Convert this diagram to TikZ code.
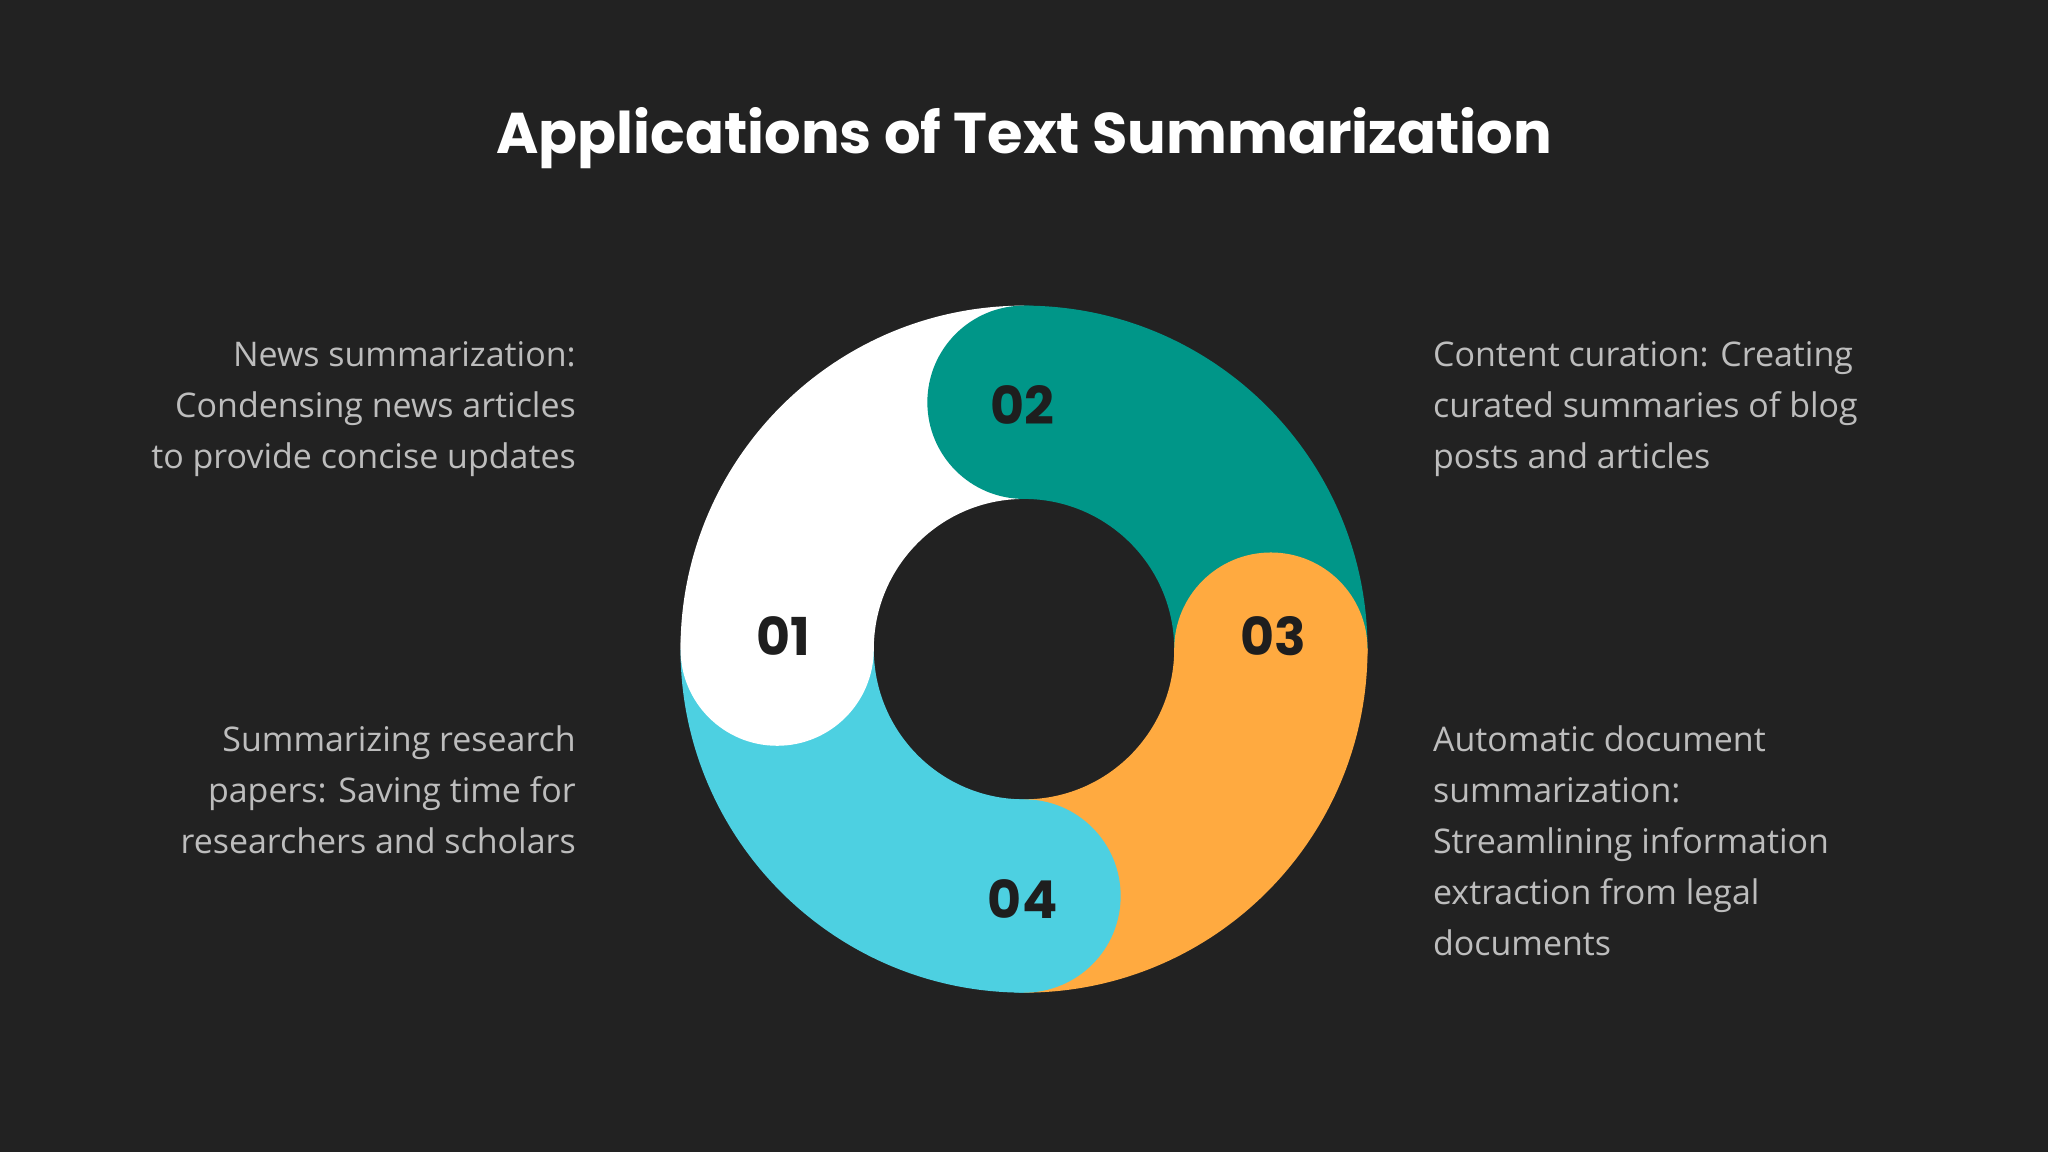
\documentclass[tikz,border=0pt]{standalone}
\usepackage{fontspec}
\usetikzlibrary{calc}
\setmainfont{Open Sans}
\newfontfamily\titlefont{Poppins}
\definecolor{bg}{HTML}{222222}
\definecolor{tealc}{HTML}{009688}
\definecolor{orangec}{HTML}{FFAA40}
\definecolor{cyanc}{HTML}{4DD0E1}
\definecolor{txt}{HTML}{BDBDBD}
\definecolor{numc}{HTML}{1E1E1E}
\begin{document}
\begin{tikzpicture}[x=1pt,y=1pt,
  desc/.style={text=txt,font=\fontsize{26}{39}\selectfont,inner sep=0pt},
  num/.style={text=numc,font=\titlefont\bfseries\fontsize{40}{40}\selectfont,inner sep=0pt}]
\fill[bg] (0,0) rectangle (1568,882);
\useasboundingbox (0,0) rectangle (1568,882);
\coordinate (c) at (784,385);
\def\ro{263}\def\ri{115}\def\rm{189}
\foreach \a/\col in {0/tealc,-90/orangec,-180/cyanc,90/white}{
  \fill[\col] ($(c)+(\a:\ro)$) arc[start angle=\a,end angle=\a+90,radius=\ro]
    -- ($(c)+(\a+90:\ri)$) arc[start angle=\a+90,end angle=\a,radius=\ri] -- cycle;
}
\foreach \a/\col in {90/tealc,0/orangec,-90/cyanc,180/white}{
  \fill[\col] ($(c)+(\a:\rm)$) circle[radius=74];
}
\node[text=white,font=\titlefont\bfseries\fontsize{44}{44}\selectfont] (title) at (784,776) {Applications of Text Summarization};
\node[num] (n1) at (600,395) {01};
\node[num] (n2) at (783,572) {02};
\node[num] (n3) at (975,395) {03};
\node[num] (n4) at (783,194) {04};
\node[desc,anchor=east,align=right] (t1) at (441,569) {News summarization:\\Condensing news articles\\to provide concise updates};
\node[desc,anchor=east,align=right] (t4) at (441,277) {Summarizing research\\papers: Saving time for\\researchers and scholars};
\node[desc,anchor=west,align=left] (t2) at (1097,569) {Content curation: Creating\\curated summaries of blog\\posts and articles};
\node[desc,anchor=west,align=left] (t3) at (1097,238) {Automatic document\\summarization:\\Streamlining information\\extraction from legal\\documents};
\end{tikzpicture}
\end{document}
